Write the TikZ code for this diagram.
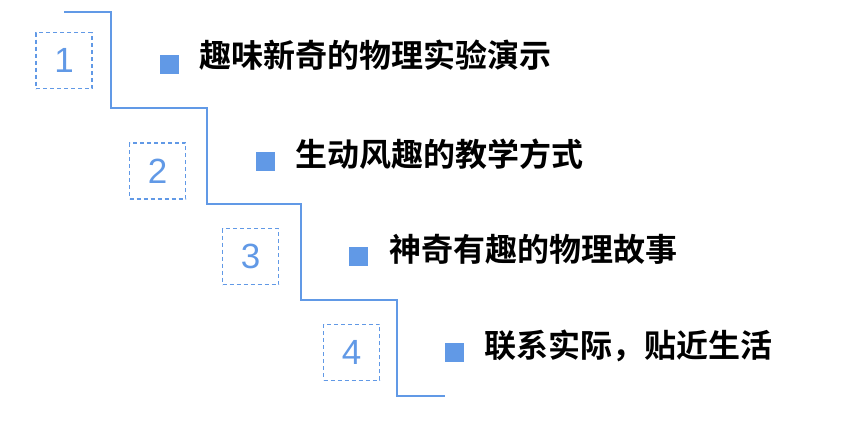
\documentclass[tikz,border=0pt]{standalone}
\usepackage{fontspec}
\setmainfont{Liberation Sans}
\newfontfamily\cjk{Noto Sans CJK SC}[BoldFont={* Bold}]
\definecolor{stairblue}{HTML}{6199E6}
\begin{document}
\begin{tikzpicture}[x=1pt,y=-1pt,
  numbox/.style={draw=stairblue,dashed,dash pattern=on 4pt off 3pt,line width=1.1pt,minimum width=56pt,minimum height=56pt,inner sep=0pt,text=stairblue,font=\fontsize{35}{35}\selectfont},
  bullet/.style={fill=stairblue,minimum width=19pt,minimum height=19pt,inner sep=0pt},
  itemtext/.style={anchor=west,inner sep=0pt,font=\cjk\bfseries\fontsize{32}{32}\selectfont},
  stair/.style={draw=stairblue,line width=1.3pt}]
\useasboundingbox (0,0) rectangle (852,424);
\coordinate (s0) at (64,12);
\coordinate (s1) at (111,12);
\coordinate (s2) at (111,108);
\coordinate (s3) at (207,108);
\coordinate (s4) at (207,204);
\coordinate (s5) at (301,204);
\coordinate (s6) at (301,300);
\coordinate (s7) at (397,300);
\coordinate (s8) at (397,396);
\coordinate (s9) at (445,396);
\draw[stair] (s0) -- (s1) -- (s2) -- (s3) -- (s4) -- (s5) -- (s6) -- (s7) -- (s8) -- (s9);
\node[numbox] (n1) at (64,60.5) {1};
\node[numbox] (n2) at (157.5,171) {2};
\node[numbox] (n3) at (250.5,256.5) {3};
\node[numbox] (n4) at (351.5,352.3) {4};
\node[bullet] (b1) at (169.5,64.7) {};
\node[bullet] (b2) at (265.5,161) {};
\node[bullet] (b3) at (358.3,256.8) {};
\node[bullet] (b4) at (454.5,352.3) {};
\node[itemtext] (t1) at (199,55.5) {趣味新奇的物理实验演示};
\node[itemtext] (t2) at (295.5,153.7) {生动风趣的教学方式};
\node[itemtext] (t3) at (389,249) {神奇有趣的物理故事};
\node[itemtext] (t4) at (484,346) {联系实际，贴近生活};
\end{tikzpicture}
\end{document}
